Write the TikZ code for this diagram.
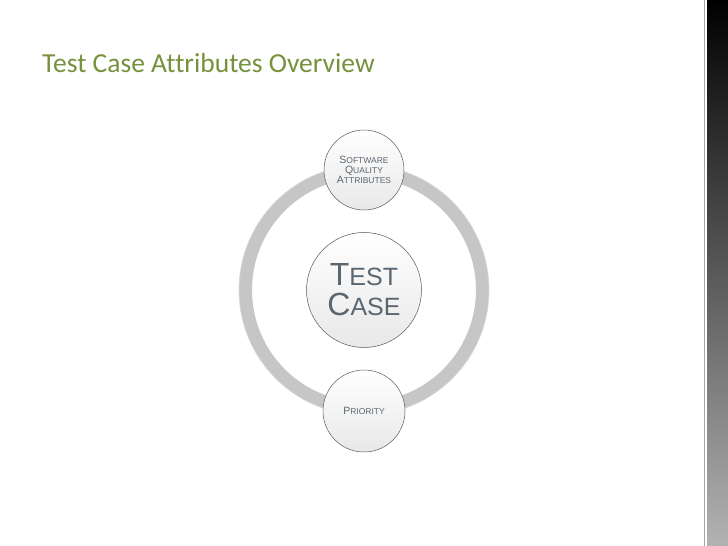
\documentclass[tikz,border=0pt]{standalone}
\usepackage{fontspec}
\setmainfont{Liberation Sans}
\newfontfamily\titlefont[Ligatures=NoCommon]{Carlito}
\begin{document}
\begin{tikzpicture}[x=1pt,y=1pt,
  bub/.style={circle,draw=gray!70!black,line width=0.5pt,top color=white,bottom color=gray!18,text=textgray,align=center,inner sep=0pt}]
\definecolor{textgray}{HTML}{5A6670}
\definecolor{titlegreen}{HTML}{76923C}
\useasboundingbox (0,0) rectangle (728,546);
\fill[white] (0,0) rectangle (728,546);
\shade[top color=black,bottom color=gray!60] (707,0) rectangle (728,546);
\draw[gray!70,line width=1pt] (704.5,0) -- (704.5,546);
\node[anchor=base west,text=titlegreen,font=\titlefont\fontsize{27.5}{30}\selectfont,inner sep=0pt] (title) at (42,473) {Test Case Attributes Overview};
\coordinate (c) at (364,256);
\draw[line width=13pt,gray!45] (c) circle (118.5);
\draw[line width=0.6pt,gray!30] (c) circle (125);
\node[bub,minimum size=115pt,font=\fontsize{32}{30}\selectfont] (tc) at (c) {T{\fontsize{25}{30}\selectfont EST}\\C{\fontsize{25}{30}\selectfont ASE}};
\node[bub,minimum size=80pt,font=\fontsize{10.5}{10}\selectfont] (sqa) at (364,376) {S{\fontsize{8.5}{10}\selectfont OFTWARE}\\Q{\fontsize{8.5}{10}\selectfont UALITY}\\A{\fontsize{8.5}{10}\selectfont TTRIBUTES}};
\node[bub,minimum size=82pt,font=\fontsize{10.5}{10}\selectfont] (pri) at (364,135) {P{\fontsize{8.5}{10}\selectfont RIORITY}};
\end{tikzpicture}
\end{document}
